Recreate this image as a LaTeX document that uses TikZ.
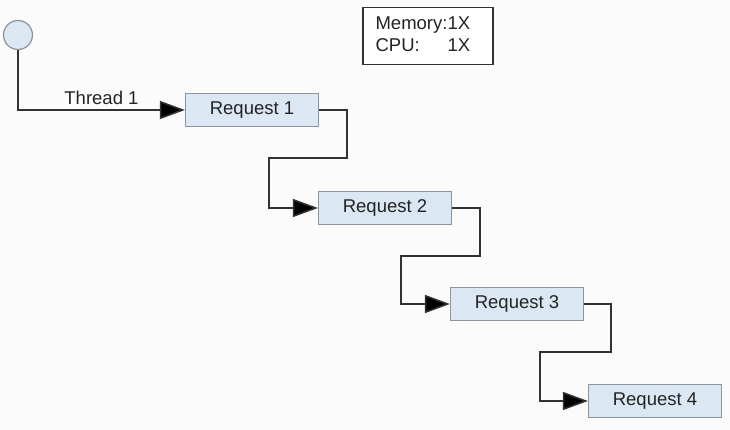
\documentclass[tikz,border=0pt]{standalone}
\usepackage{fontspec}
\setmainfont{Liberation Sans}
\usetikzlibrary{arrows.meta,positioning}

\definecolor{boxfill}{RGB}{219,231,242}
\definecolor{boxline}{RGB}{140,148,158}
\definecolor{flowline}{RGB}{50,50,50}
\definecolor{textcol}{RGB}{35,35,35}

\tikzset{
  every node/.style={text=textcol,font=\fontsize{18.5}{22}\selectfont},
  reqbox/.style={draw=boxline,fill=boxfill,line width=1.2pt,minimum width=133pt,minimum height=33pt,inner sep=0pt},
  flow/.style={draw=flowline,line width=1.5pt,-{Triangle[length=25pt,width=18pt,fill=black]}},
}

\begin{document}
\begin{tikzpicture}[x=1pt,y=-1pt]
\fill[white!98.5!black] (0,0) rectangle (730,430);
\useasboundingbox (0,0) rectangle (730,430);
\node[circle,draw=boxline,fill=boxfill,line width=1.2pt,minimum size=29pt,inner sep=0pt] (start) at (18,35) {};
\node[draw=flowline,fill=white,line width=1.3pt,minimum width=130pt,minimum height=57pt,inner sep=0pt] (res) at (428,36) {};
\node[anchor=west,inner sep=0pt] (restext) at ([xshift=13pt]res.west)
  {\begin{tabular}{@{}l@{}r@{}}Memory:&1X\\CPU:&1X\end{tabular}};
\node[reqbox] (r1) at (252,110) {Request 1};
\node[reqbox] (r2) at (385,208) {Request 2};
\node[reqbox] (r3) at (517,304) {Request 3};
\node[reqbox] (r4) at (655,401) {Request 4};
% thread and hand-over between requests
\draw[flow] (start.south) |- (r1.west) node[pos=0.75,above=1pt] {Thread 1};
\draw[flow] (r1.east) -- ++(28,0) |- ++(-78,48) |- (r2.west);
\draw[flow] (r2.east) -- ++(28,0) |- ++(-79,48) |- (r3.west);
\draw[flow] (r3.east) -- ++(27,0) |- ++(-71,48) |- (r4.west);
\end{tikzpicture}
\end{document}
